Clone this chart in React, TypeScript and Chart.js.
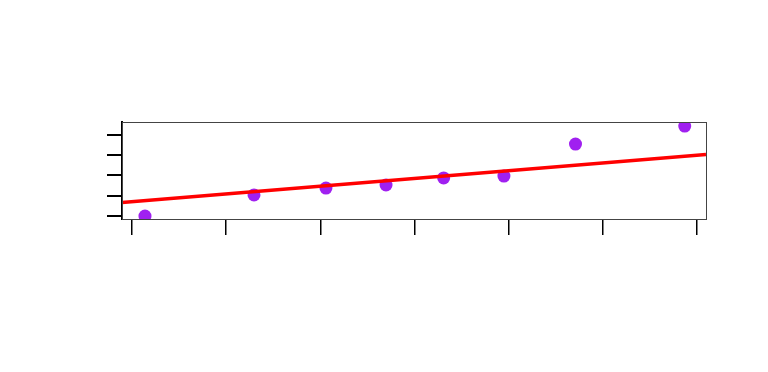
import React, { useEffect, useRef } from "react";
import { Chart, registerables } from "chart.js";

Chart.register(...registerables);

const pointX = [0.138, 1.296, 2.06, 2.698, 3.31, 3.95, 4.71, 5.87];
const pointY = [0.0, 1.04, 1.38, 1.53, 1.88, 1.97, 3.55, 4.44];
const trendX = [-0.106, 6.096];
const trendY = [0.66, 3.03];
const xTicks = [0, 1, 2, 3, 4, 5, 6];
const yTicks = [0, 1, 2, 3, 4];

const boxPlugin = {
  id: "box",
  afterDraw(chart: any) {
    const { ctx, chartArea } = chart;
    ctx.save();
    ctx.strokeStyle = "#444";
    ctx.lineWidth = 1;
    ctx.strokeRect(
      Math.round(chartArea.left) + 0.5,
      Math.round(chartArea.top) + 0.5,
      Math.round(chartArea.right - chartArea.left),
      Math.round(chartArea.bottom - chartArea.top)
    );
    ctx.restore();
  },
};

export default function App() {
  const ref = useRef<HTMLCanvasElement | null>(null);
  useEffect(() => {
    document.body.style.margin = "0";
    const chart = new Chart(ref.current!, {
      type: "scatter",
      data: {
        datasets: [
          {
            type: "line",
            data: trendX.map((x, i) => ({ x, y: trendY[i] })),
            borderColor: "#FF0000",
            borderWidth: 3.5,
            pointRadius: 0,
            fill: false,
          } as any,
          {
            data: pointX.map((x, i) => ({ x, y: pointY[i] })),
            backgroundColor: "#A020F0",
            borderWidth: 0,
            pointRadius: 6.5,
          },
        ],
      },
      options: {
        animation: false,
        responsive: false,
        layout: { padding: { left: 107, top: 122, right: 62, bottom: 137 } },
        plugins: { legend: { display: false }, tooltip: { enabled: false } },
        scales: {
          x: {
            type: "linear",
            min: -0.106,
            max: 6.096,
            afterBuildTicks: (s: any) => {
              s.ticks = xTicks.map((v) => ({ value: v }));
            },
            ticks: { display: false },
            grid: {
              drawOnChartArea: false,
              drawTicks: true,
              tickLength: 16,
              color: "#000",
              lineWidth: 1.5,
            },
            border: { display: true, color: "#444", width: 1 },
          },
          y: {
            type: "linear",
            min: -0.148,
            max: 4.64,
            afterBuildTicks: (s: any) => {
              s.ticks = yTicks.map((v) => ({ value: v }));
            },
            ticks: { display: false },
            grid: {
              drawOnChartArea: false,
              drawTicks: true,
              tickLength: 15,
              color: "#000",
              lineWidth: 2,
            },
            border: { display: true, color: "#000", width: 2 },
          },
        },
      },
      plugins: [boxPlugin],
    });
    return () => chart.destroy();
  }, []);
  return (
    <div style={{ width: 768, height: 372 }}>
      <canvas ref={ref} width={768} height={372} style={{ display: "block" }} />
    </div>
  );
}
